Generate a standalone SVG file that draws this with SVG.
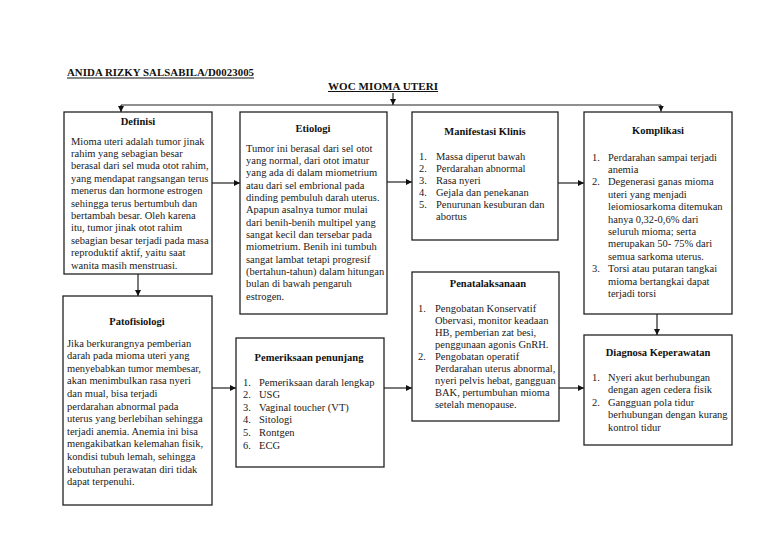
<svg xmlns="http://www.w3.org/2000/svg" width="768" height="543" viewBox="0 0 768 543">
<style>
.bg{fill:#fff}
.box{fill:#fff;stroke:#222;stroke-width:1.3}
.t{font-family:"Liberation Serif","Times New Roman",serif;font-size:10.5px;fill:#1a1a1a}
.h{font-family:"Liberation Serif","Times New Roman",serif;font-size:10.5px;font-weight:bold;fill:#111;text-anchor:middle}
.hd{font-family:"Liberation Serif","Times New Roman",serif;font-weight:bold;fill:#111}
.c{fill:none;stroke:#222;stroke-width:1.2}
.u{stroke:#111;stroke-width:1}
</style>
<defs>
<marker id="ah" viewBox="0 0 8 8" refX="8" refY="4" markerWidth="6" markerHeight="6" orient="auto" markerUnits="userSpaceOnUse">
<path d="M0,0 L8,4 L0,8 z" fill="#111"/>
</marker>
</defs>
<rect class="bg" x="0" y="0" width="768" height="543"/>

<g id="header">
<text class="hd" x="67" y="76" font-size="10.8" textLength="187" lengthAdjust="spacing">ANIDA RIZKY SALSABILA/D0023005</text>
<line class="u" x1="67" y1="78" x2="254" y2="78"/>
<text class="hd" x="328" y="89.5" font-size="11" textLength="110" lengthAdjust="spacing">WOC MIOMA UTERI</text>
<line class="u" x1="328" y1="91.5" x2="438" y2="91.5"/>
</g>

<g id="connectors">
<line class="c" x1="393" y1="93" x2="393" y2="105" marker-end="url(#ah)"/>
<line class="c" x1="121" y1="105" x2="661" y2="105"/>
<line class="c" x1="121" y1="105" x2="121" y2="112" marker-end="url(#ah)"/>
<line class="c" x1="661" y1="105" x2="661" y2="111.5" marker-end="url(#ah)"/>
<line class="c" x1="212" y1="183" x2="240" y2="183" marker-end="url(#ah)"/>
<line class="c" x1="387" y1="182" x2="412" y2="182" marker-end="url(#ah)"/>
<line class="c" x1="558" y1="183" x2="584" y2="183" marker-end="url(#ah)"/>
<line class="c" x1="138" y1="274" x2="138" y2="296" marker-end="url(#ah)"/>
<line class="c" x1="212" y1="388" x2="236" y2="388" marker-end="url(#ah)"/>
<line class="c" x1="384" y1="388" x2="412" y2="388" marker-end="url(#ah)"/>
<line class="c" x1="559" y1="388" x2="584" y2="388" marker-end="url(#ah)"/>
<line class="c" x1="657" y1="314" x2="657" y2="335" marker-end="url(#ah)"/>
</g>

<g id="definisi">
<rect class="box" x="64" y="112" width="148" height="162"/>
<text class="h" x="138" y="125">Definisi</text>
<text class="t">
<tspan x="71" y="144.5">Mioma uteri adalah tumor jinak</tspan>
<tspan x="71" y="156.9">rahim yang sebagian besar</tspan>
<tspan x="71" y="169.3">berasal dari sel muda otot rahim,</tspan>
<tspan x="71" y="181.7">yang mendapat rangsangan terus</tspan>
<tspan x="71" y="194.1">menerus dan hormone estrogen</tspan>
<tspan x="71" y="206.5">sehingga terus bertumbuh dan</tspan>
<tspan x="71" y="218.9">bertambah besar. Oleh karena</tspan>
<tspan x="71" y="231.3">itu, tumor jinak otot rahim</tspan>
<tspan x="71" y="243.7">sebagian besar terjadi pada masa</tspan>
<tspan x="71" y="256.1">reproduktif aktif, yaitu saat</tspan>
<tspan x="71" y="268.5">wanita masih menstruasi.</tspan>
</text>
</g>

<g id="patofisiologi">
<rect class="box" x="63" y="296" width="149" height="209"/>
<text class="h" x="137" y="325">Patofisiologi</text>
<text class="t">
<tspan x="67" y="346.5">Jika berkurangnya pemberian</tspan>
<tspan x="67" y="359.1">darah pada mioma uteri yang</tspan>
<tspan x="67" y="371.7">menyebabkan tumor membesar,</tspan>
<tspan x="67" y="384.3">akan menimbulkan rasa nyeri</tspan>
<tspan x="67" y="396.9">dan mual, bisa terjadi</tspan>
<tspan x="67" y="409.5">perdarahan abnormal pada</tspan>
<tspan x="67" y="422.1">uterus yang berlebihan sehingga</tspan>
<tspan x="67" y="434.7">terjadi anemia. Anemia ini bisa</tspan>
<tspan x="67" y="447.3">mengakibatkan kelemahan fisik,</tspan>
<tspan x="67" y="459.9">kondisi tubuh lemah, sehingga</tspan>
<tspan x="67" y="472.5">kebutuhan perawatan diri tidak</tspan>
<tspan x="67" y="485.1">dapat terpenuhi.</tspan>
</text>
</g>

<g id="etiologi">
<rect class="box" x="240" y="112" width="147" height="202"/>
<text class="h" x="313" y="132">Etiologi</text>
<text class="t">
<tspan x="246" y="151.5">Tumor ini berasal dari sel otot</tspan>
<tspan x="246" y="163.85">yang normal, dari otot imatur</tspan>
<tspan x="246" y="176.2">yang ada di dalam miometrium</tspan>
<tspan x="246" y="188.55">atau dari sel embrional pada</tspan>
<tspan x="246" y="200.9">dinding pembuluh darah uterus.</tspan>
<tspan x="246" y="213.25">Apapun asalnya tumor mulai</tspan>
<tspan x="246" y="225.6">dari benih-benih multipel yang</tspan>
<tspan x="246" y="237.95">sangat kecil dan tersebar pada</tspan>
<tspan x="246" y="250.3">miometrium. Benih ini tumbuh</tspan>
<tspan x="246" y="262.65">sangat lambat tetapi progresif</tspan>
<tspan x="246" y="275">(bertahun-tahun) dalam hitungan</tspan>
<tspan x="246" y="287.35">bulan di bawah pengaruh</tspan>
<tspan x="246" y="299.7">estrogen.</tspan>
</text>
</g>

<g id="pemeriksaan">
<rect class="box" x="236" y="338" width="148" height="129"/>
<text class="h" x="309" y="361">Pemeriksaan penunjang</text>
<text class="t">
<tspan x="243" y="385.5">1.</tspan><tspan x="259" y="385.5">Pemeriksaan darah lengkap</tspan>
<tspan x="243" y="398.1">2.</tspan><tspan x="259" y="398.1">USG</tspan>
<tspan x="243" y="410.7">3.</tspan><tspan x="259" y="410.7">Vaginal toucher (VT)</tspan>
<tspan x="243" y="423.3">4.</tspan><tspan x="259" y="423.3">Sitologi</tspan>
<tspan x="243" y="435.9">5.</tspan><tspan x="259" y="435.9">Rontgen</tspan>
<tspan x="243" y="448.5">6.</tspan><tspan x="259" y="448.5">ECG</tspan>
</text>
</g>

<g id="manifestasi">
<rect class="box" x="412" y="112" width="146" height="128"/>
<text class="h" x="485" y="135">Manifestasi Klinis</text>
<text class="t">
<tspan x="419" y="159.5">1.</tspan><tspan x="436" y="159.5">Massa diperut bawah</tspan>
<tspan x="419" y="171.5">2.</tspan><tspan x="436" y="171.5">Perdarahan abnormal</tspan>
<tspan x="419" y="183.5">3.</tspan><tspan x="436" y="183.5">Rasa nyeri</tspan>
<tspan x="419" y="195.5">4.</tspan><tspan x="436" y="195.5">Gejala dan penekanan</tspan>
<tspan x="419" y="207.5">5.</tspan><tspan x="436" y="207.5">Penurunan kesuburan dan</tspan>
<tspan x="436" y="219.5">abortus</tspan>
</text>
</g>

<g id="penatalaksanaan">
<rect class="box" x="412" y="272" width="147" height="149"/>
<text class="h" x="488" y="287">Penatalaksanaan</text>
<text class="t">
<tspan x="418" y="311.5">1.</tspan><tspan x="435" y="311.5">Pengobatan Konservatif</tspan>
<tspan x="435" y="323.5">Obervasi, monitor keadaan</tspan>
<tspan x="435" y="335.5">HB, pemberian zat besi,</tspan>
<tspan x="435" y="347.5">penggunaan agonis GnRH.</tspan>
<tspan x="418" y="359.5">2.</tspan><tspan x="435" y="359.5">Pengobatan operatif</tspan>
<tspan x="435" y="371.5">Perdarahan uterus abnormal,</tspan>
<tspan x="435" y="383.5">nyeri pelvis hebat, gangguan</tspan>
<tspan x="435" y="395.5">BAK, pertumbuhan mioma</tspan>
<tspan x="435" y="407.5">setelah menopause.</tspan>
</text>
</g>

<g id="komplikasi">
<rect class="box" x="584" y="112" width="148" height="202"/>
<text class="h" x="658" y="134">Komplikasi</text>
<text class="t">
<tspan x="592" y="160.5">1.</tspan><tspan x="608" y="160.5">Perdarahan sampai terjadi</tspan>
<tspan x="608" y="172.9">anemia</tspan>
<tspan x="592" y="185.3">2.</tspan><tspan x="608" y="185.3">Degenerasi ganas mioma</tspan>
<tspan x="608" y="197.7">uteri yang menjadi</tspan>
<tspan x="608" y="210.1">leiomiosarkoma ditemukan</tspan>
<tspan x="608" y="222.5">hanya 0,32-0,6% dari</tspan>
<tspan x="608" y="234.9">seluruh mioma; serta</tspan>
<tspan x="608" y="247.3">merupakan 50- 75% dari</tspan>
<tspan x="608" y="259.7">semua sarkoma uterus.</tspan>
<tspan x="592" y="272.1">3.</tspan><tspan x="608" y="272.1">Torsi atau putaran tangkai</tspan>
<tspan x="608" y="284.5">mioma bertangkai dapat</tspan>
<tspan x="608" y="296.9">terjadi torsi</tspan>
</text>
</g>

<g id="diagnosa">
<rect class="box" x="584" y="335" width="148" height="110"/>
<text class="h" x="658" y="356">Diagnosa Keperawatan</text>
<text class="t">
<tspan x="592" y="380.5">1.</tspan><tspan x="608" y="380.5">Nyeri akut berhubungan</tspan>
<tspan x="608" y="393">dengan agen cedera fisik</tspan>
<tspan x="592" y="405.5">2.</tspan><tspan x="608" y="405.5">Gangguan pola tidur</tspan>
<tspan x="608" y="418">berhubungan dengan kurang</tspan>
<tspan x="608" y="430.5">kontrol tidur</tspan>
</text>
</g>
</svg>
